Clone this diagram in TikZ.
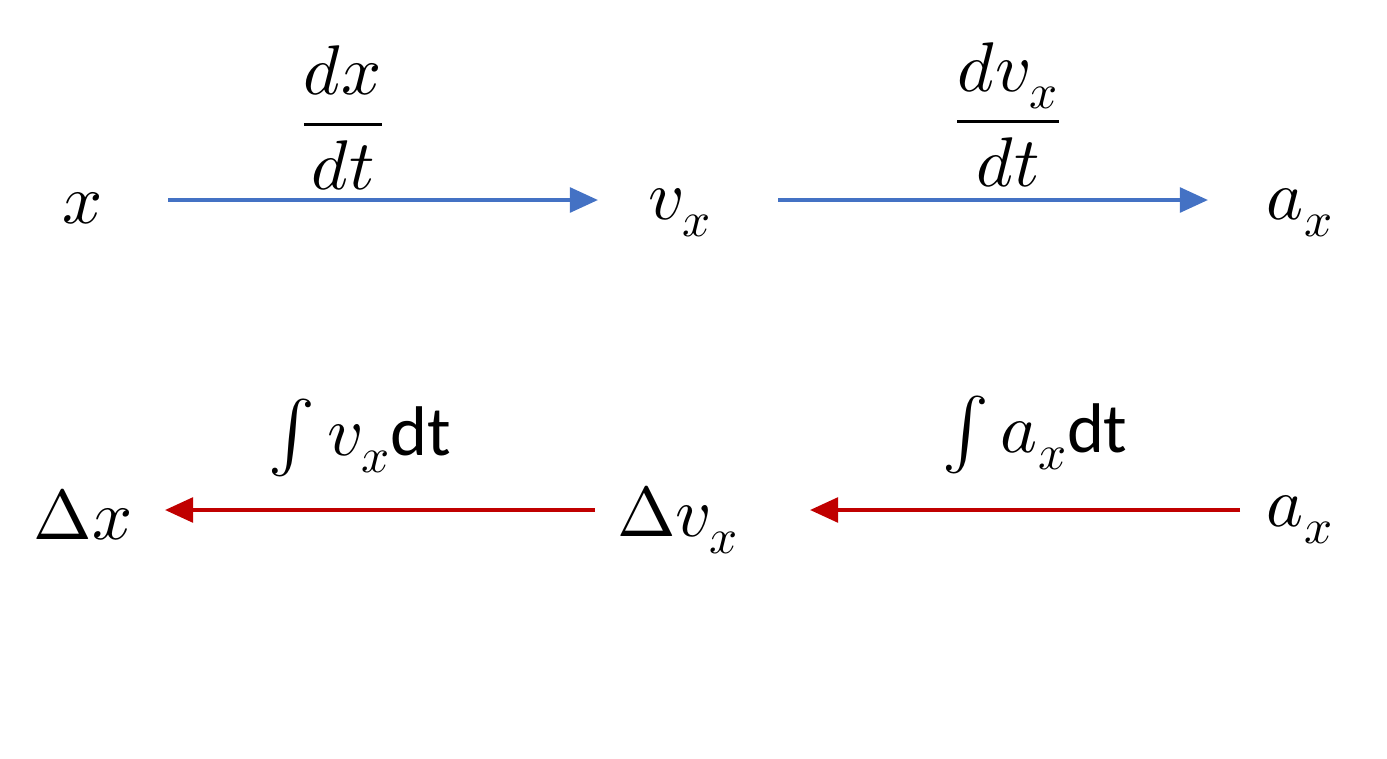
\documentclass[tikz,border=0pt]{standalone}
\usepackage{amsmath}
\usepackage{fontspec}
\usepackage{unicode-math}
\setmathfont{Latin Modern Math}
\setsansfont{Carlito}
\usetikzlibrary{arrows.meta}
\definecolor{arrowblue}{RGB}{68,114,196}
\definecolor{arrowred}{RGB}{192,0,0}
\tikzset{
	quantity/.style={font=\fontsize{40}{48}\selectfont, inner sep=0pt},
	oplabel/.style={font=\fontsize{40}{48}\selectfont, inner sep=0pt},
	derive/.style={arrowblue, line width=2.3pt, -{Triangle[length=16pt,width=14pt]}},
	integrate/.style={arrowred, line width=2.3pt, -{Triangle[length=16pt,width=14pt]}}
}
\begin{document}
\begin{tikzpicture}[x=0.02cm,y=-0.02cm]
	\useasboundingbox (0,0) rectangle (1387,758);
	% Derivatives
	\node[quantity] (x) at (83,208) {$x$};
	\node[quantity] (vx) at (680,213) {$v_x$};
	\node[quantity] (ax) at (1300,213) {$a_x$};
	\coordinate (d1s) at (168,200);
	\coordinate (d1e) at (598,200);
	\coordinate (d2s) at (778,200);
	\coordinate (d2e) at (1208,200);
	\draw[derive] (d1s) -- (d1e);
	\draw[derive] (d2s) -- (d2e);
	\node[oplabel] (dxdt) at (343,118) {$\dfrac{dx}{dt}$};
	\node[oplabel] (dvdt) at (1008,115) {$\dfrac{dv_x}{dt}$};
	% Integrals
	\node[quantity] (Dx) at (83,515) {$\Delta x$};
	\node[quantity] (Dvx) at (678,520) {$\Delta v_x$};
	\node[quantity] (ax2) at (1300,520) {$a_x$};
	\coordinate (i1s) at (595,510);
	\coordinate (i1e) at (165,510);
	\coordinate (i2s) at (1240,510);
	\coordinate (i2e) at (810,510);
	\draw[integrate] (i1s) -- (i1e);
	\draw[integrate] (i2s) -- (i2e);
	\node[oplabel] (intv) at (360,438) {$\int v_x\textsf{dt}$};
	\node[oplabel] (inta) at (1035,435) {$\int a_x\textsf{dt}$};
\end{tikzpicture}
\end{document}
